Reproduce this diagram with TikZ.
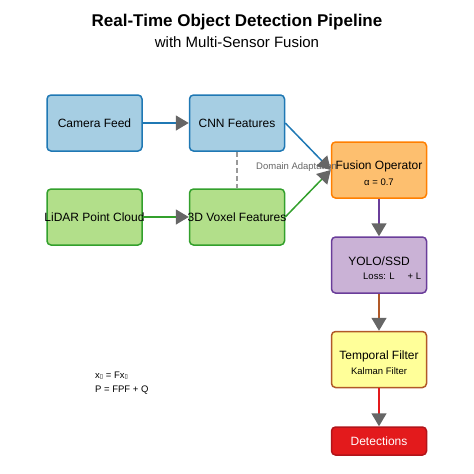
\documentclass[tikz,border=0pt]{standalone}
\usepackage{fontspec}
\setmainfont{Liberation Sans}
\newfontfamily\djv{DejaVu Sans}
\usetikzlibrary{arrows.meta}
\definecolor{bluef}{HTML}{A6CEE3}\definecolor{blued}{HTML}{1F78B4}
\definecolor{greenf}{HTML}{B2DF8A}\definecolor{greend}{HTML}{33A02C}
\definecolor{orangef}{HTML}{FDBF6F}\definecolor{oranged}{HTML}{FF7F00}
\definecolor{purplef}{HTML}{CAB2D6}\definecolor{purpled}{HTML}{6A3D9A}
\definecolor{yellowf}{HTML}{FFFF99}\definecolor{yellowd}{HTML}{B15928}
\definecolor{redf}{HTML}{E31A1C}\definecolor{redd}{HTML}{B2141A}
\definecolor{tipgray}{HTML}{666666}
\definecolor{dashgray}{HTML}{999999}
\tikzset{
  box/.style={draw, line width=1.5pt, rounded corners=4pt, minimum width=95pt, minimum height=56pt, inner sep=0pt, font=\fontsize{12}{14}\selectfont},
  sub/.style={font=\fontsize{9.5}{11}\selectfont, inner sep=0pt},
  conn/.style={line width=1.5pt, -{Triangle[length=13pt,width=15pt,fill=tipgray,color=tipgray]}},
}
\begin{document}
\begin{tikzpicture}[x=1pt,y=-1pt]
\useasboundingbox (0,0) rectangle (474,474);
\node[font=\bfseries\fontsize{17}{19}\selectfont] (title) at (237,22.5) {Real-Time Object Detection Pipeline};
\node[font=\fontsize{15}{17}\selectfont] (subtitle) at (237,42) {with Multi-Sensor Fusion};

\node[box, fill=bluef, draw=blued] (cam) at (94.5,123) {\makebox[0pt]{Camera Feed}};
\node[box, fill=bluef, draw=blued] (cnn) at (237,123) {\makebox[0pt]{CNN Features}};
\node[box, fill=greenf, draw=greend] (lid) at (94.5,217) {\makebox[0pt]{LiDAR Point Cloud}};
\node[box, fill=greenf, draw=greend] (vox) at (237,217) {\makebox[0pt]{3D Voxel Features}};
\node[box, fill=orangef, draw=oranged] (fus) at (379,170) {};
\node[box, fill=purplef, draw=purpled] (yolo) at (379,265) {};
\node[box, fill=yellowf, draw=yellowd] (temp) at (379,359.5) {};
\node[box, fill=redf, draw=redd, minimum height=28pt, text=white] (det) at (379,441) {Detections};

\node[anchor=west, text=tipgray, font=\fontsize{9.5}{10}\selectfont, inner sep=0pt] (dalab) at (256,167) {Domain Adaptation};

\node[font=\fontsize{12}{14}\selectfont, inner sep=0pt] (fust) at (379,166) {Fusion Operator};
\node[sub] (fuss) at (379,182) {α = 0.7};
\node[font=\fontsize{12}{14}\selectfont, inner sep=0pt] (yolot) at (379,261) {YOLO/SSD};
\node[sub, anchor=west] (yolos) at (363,276) {Loss: L\hspace{13pt}+ L};
\node[font=\fontsize{12}{14}\selectfont, inner sep=0pt] (tempt) at (379,356) {Temporal Filter};
\node[sub] (temps) at (379,371) {Kalman Filter};

\node[sub, anchor=west] (eq1) at (95,376) {x{\djv\fontsize{6}{7}\selectfont ▯} = Fx{\djv\fontsize{6}{7}\selectfont ▯}};
\node[sub, anchor=west] (eq2) at (95,390) {P = FPF + Q};

\draw[dash pattern=on 5pt off 3pt, dashgray, line width=1.5pt] (cnn.south) -- (vox.north);
\draw[conn, blued] (cam.east) -- (cnn.west);
\draw[conn, greend] (lid.east) -- (vox.west);
\draw[conn, blued] (cnn.east) -- (fus.west);
\draw[conn, greend] (vox.east) -- (fus.west);
\draw[conn, purpled] (fus.south) -- (yolo.north);
\draw[conn, yellowd] (yolo.south) -- (temp.north);
\draw[conn, redf] (temp.south) -- (det.north);
\end{tikzpicture}
\end{document}
